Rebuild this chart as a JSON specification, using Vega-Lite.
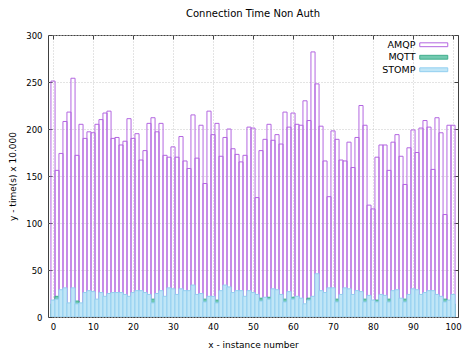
{
  "$schema": "https://vega.github.io/schema/vega-lite/v6.json",
  "width": 410,
  "height": 282,
  "autosize": {"type": "none"},
  "padding": {"left": 48, "top": 35, "right": 16, "bottom": 37},
  "background": "white",
  "title": {"text": "Connection Time Non Auth", "font": "DejaVu Sans", "fontSize": 10, "fontWeight": "normal", "color": "#000", "offset": 12, "anchor": "middle"},
  "config": {
    "view": {"stroke": "#404040", "strokeWidth": 1},
    "axis": {
      "labelFont": "DejaVu Sans", "labelFontSize": 8.5, "labelColor": "#000",
      "titleFont": "DejaVu Sans", "titleFontSize": 9, "titleFontWeight": "normal", "titleColor": "#000",
      "domain": false, "tickColor": "#404040", "tickSize": -4, "tickWidth": 1,
      "gridColor": "#c8c8c8", "gridDash": [1, 2], "gridWidth": 1
    },
    "legend": {"padding": 0}
  },
  "data": {"values": [
    {"i":0,"AMQP":251,"MQTT":14,"STOMP":18},
    {"i":1,"AMQP":156,"MQTT":22,"STOMP":19},
    {"i":2,"AMQP":174,"MQTT":15,"STOMP":29},
    {"i":3,"AMQP":208,"MQTT":14,"STOMP":31},
    {"i":4,"AMQP":218,"MQTT":13,"STOMP":15},
    {"i":5,"AMQP":254,"MQTT":15,"STOMP":31},
    {"i":6,"AMQP":172,"MQTT":17,"STOMP":14},
    {"i":7,"AMQP":205,"MQTT":13,"STOMP":15},
    {"i":8,"AMQP":190,"MQTT":15,"STOMP":26},
    {"i":9,"AMQP":197,"MQTT":14,"STOMP":28},
    {"i":10,"AMQP":196,"MQTT":15,"STOMP":27},
    {"i":11,"AMQP":205,"MQTT":16,"STOMP":19},
    {"i":12,"AMQP":210,"MQTT":14,"STOMP":26},
    {"i":13,"AMQP":217,"MQTT":15,"STOMP":22},
    {"i":14,"AMQP":219,"MQTT":14,"STOMP":25},
    {"i":15,"AMQP":190,"MQTT":16,"STOMP":26},
    {"i":16,"AMQP":191,"MQTT":15,"STOMP":26},
    {"i":17,"AMQP":183,"MQTT":14,"STOMP":26},
    {"i":18,"AMQP":187,"MQTT":15,"STOMP":24},
    {"i":19,"AMQP":211,"MQTT":16,"STOMP":22},
    {"i":20,"AMQP":190,"MQTT":14,"STOMP":26},
    {"i":21,"AMQP":195,"MQTT":15,"STOMP":28},
    {"i":22,"AMQP":167,"MQTT":14,"STOMP":28},
    {"i":23,"AMQP":177,"MQTT":15,"STOMP":26},
    {"i":24,"AMQP":206,"MQTT":16,"STOMP":24},
    {"i":25,"AMQP":212,"MQTT":19,"STOMP":15},
    {"i":26,"AMQP":197,"MQTT":15,"STOMP":25},
    {"i":27,"AMQP":206,"MQTT":14,"STOMP":28},
    {"i":28,"AMQP":172,"MQTT":16,"STOMP":22},
    {"i":29,"AMQP":170,"MQTT":15,"STOMP":31},
    {"i":30,"AMQP":181,"MQTT":14,"STOMP":30},
    {"i":31,"AMQP":170,"MQTT":15,"STOMP":24},
    {"i":32,"AMQP":192,"MQTT":16,"STOMP":30},
    {"i":33,"AMQP":166,"MQTT":14,"STOMP":28},
    {"i":34,"AMQP":158,"MQTT":15,"STOMP":28},
    {"i":35,"AMQP":215,"MQTT":16,"STOMP":34},
    {"i":36,"AMQP":169,"MQTT":15,"STOMP":24},
    {"i":37,"AMQP":204,"MQTT":14,"STOMP":25},
    {"i":38,"AMQP":142,"MQTT":19,"STOMP":16},
    {"i":39,"AMQP":219,"MQTT":15,"STOMP":22},
    {"i":40,"AMQP":194,"MQTT":16,"STOMP":22},
    {"i":41,"AMQP":206,"MQTT":18,"STOMP":15},
    {"i":42,"AMQP":171,"MQTT":15,"STOMP":28},
    {"i":43,"AMQP":191,"MQTT":14,"STOMP":34},
    {"i":44,"AMQP":200,"MQTT":15,"STOMP":32},
    {"i":45,"AMQP":179,"MQTT":16,"STOMP":26},
    {"i":46,"AMQP":173,"MQTT":14,"STOMP":28},
    {"i":47,"AMQP":165,"MQTT":15,"STOMP":28},
    {"i":48,"AMQP":172,"MQTT":16,"STOMP":22},
    {"i":49,"AMQP":202,"MQTT":15,"STOMP":28},
    {"i":50,"AMQP":201,"MQTT":14,"STOMP":26},
    {"i":51,"AMQP":127,"MQTT":15,"STOMP":24},
    {"i":52,"AMQP":177,"MQTT":20,"STOMP":17},
    {"i":53,"AMQP":189,"MQTT":15,"STOMP":21},
    {"i":54,"AMQP":205,"MQTT":21,"STOMP":19},
    {"i":55,"AMQP":188,"MQTT":15,"STOMP":30},
    {"i":56,"AMQP":194,"MQTT":14,"STOMP":29},
    {"i":57,"AMQP":184,"MQTT":16,"STOMP":24},
    {"i":58,"AMQP":218,"MQTT":19,"STOMP":16},
    {"i":59,"AMQP":202,"MQTT":15,"STOMP":27},
    {"i":60,"AMQP":217,"MQTT":21,"STOMP":19},
    {"i":61,"AMQP":205,"MQTT":15,"STOMP":22},
    {"i":62,"AMQP":204,"MQTT":14,"STOMP":20},
    {"i":63,"AMQP":230,"MQTT":12,"STOMP":14},
    {"i":64,"AMQP":209,"MQTT":20,"STOMP":18},
    {"i":65,"AMQP":282,"MQTT":15,"STOMP":22},
    {"i":66,"AMQP":248,"MQTT":16,"STOMP":46},
    {"i":67,"AMQP":203,"MQTT":15,"STOMP":28},
    {"i":68,"AMQP":166,"MQTT":14,"STOMP":26},
    {"i":69,"AMQP":128,"MQTT":15,"STOMP":31},
    {"i":70,"AMQP":198,"MQTT":16,"STOMP":31},
    {"i":71,"AMQP":189,"MQTT":19,"STOMP":16},
    {"i":72,"AMQP":167,"MQTT":15,"STOMP":24},
    {"i":73,"AMQP":166,"MQTT":14,"STOMP":31},
    {"i":74,"AMQP":186,"MQTT":15,"STOMP":30},
    {"i":75,"AMQP":159,"MQTT":16,"STOMP":24},
    {"i":76,"AMQP":191,"MQTT":15,"STOMP":28},
    {"i":77,"AMQP":225,"MQTT":14,"STOMP":27},
    {"i":78,"AMQP":204,"MQTT":19,"STOMP":16},
    {"i":79,"AMQP":119,"MQTT":15,"STOMP":23},
    {"i":80,"AMQP":115,"MQTT":14,"STOMP":18},
    {"i":81,"AMQP":170,"MQTT":18,"STOMP":16},
    {"i":82,"AMQP":183,"MQTT":15,"STOMP":24},
    {"i":83,"AMQP":183,"MQTT":14,"STOMP":23},
    {"i":84,"AMQP":156,"MQTT":19,"STOMP":16},
    {"i":85,"AMQP":186,"MQTT":15,"STOMP":28},
    {"i":86,"AMQP":194,"MQTT":16,"STOMP":29},
    {"i":87,"AMQP":171,"MQTT":15,"STOMP":20},
    {"i":88,"AMQP":141,"MQTT":19,"STOMP":16},
    {"i":89,"AMQP":180,"MQTT":15,"STOMP":24},
    {"i":90,"AMQP":199,"MQTT":14,"STOMP":30},
    {"i":91,"AMQP":175,"MQTT":15,"STOMP":29},
    {"i":92,"AMQP":201,"MQTT":16,"STOMP":24},
    {"i":93,"AMQP":209,"MQTT":15,"STOMP":26},
    {"i":94,"AMQP":202,"MQTT":14,"STOMP":28},
    {"i":95,"AMQP":157,"MQTT":15,"STOMP":28},
    {"i":96,"AMQP":212,"MQTT":16,"STOMP":24},
    {"i":97,"AMQP":196,"MQTT":15,"STOMP":22},
    {"i":98,"AMQP":109,"MQTT":19,"STOMP":16},
    {"i":99,"AMQP":204,"MQTT":15,"STOMP":18},
    {"i":100,"AMQP":204,"MQTT":14,"STOMP":24}
  ]},
  "transform": [{"fold": ["AMQP", "MQTT", "STOMP"], "as": ["series", "value"]}],
  "layer": [
    {
      "mark": {"type": "bar", "orient": "vertical", "width": 4.1, "clip": true, "strokeWidth": 1},
      "encoding": {
        "x": {"field": "i", "type": "quantitative", "scale": {"domain": [0, 100], "nice": false, "zero": false},
              "axis": {"values": [0,10,20,30,40,50,60,70,80,90,100], "title": "x - instance number", "grid": true, "labelPadding": 9, "titlePadding": 10}},
        "y": {"field": "value", "type": "quantitative", "stack": null, "scale": {"domain": [0, 300], "nice": false},
              "axis": {"values": [0,50,100,150,200,250,300], "title": "y - time(s) x 10.000", "grid": true, "labelPadding": 10, "titlePadding": 8}},
        "fill": {"field": "series", "type": "nominal",
                 "scale": {"domain": ["AMQP", "MQTT", "STOMP"], "range": ["rgba(255,255,255,0)", "#72c9b0", "#c0e6f7"]},
                 "legend": {"orient": "none", "legendX": 381, "legendY": 5, "title": null, "labelAlign": "right", "labelOffset": -23,
                            "symbolType": "M-4,-0.55L4,-0.55L4,0.55L-4,0.55Z", "symbolSize": 49, "rowPadding": 1.5,
                            "labelFont": "DejaVu Sans", "labelFontSize": 9.5, "labelColor": "#000", "symbolStrokeWidth": 1}},
        "stroke": {"field": "series", "type": "nominal",
                   "scale": {"domain": ["AMQP", "MQTT", "STOMP"], "range": ["#b366e0", "#3fae8c", "#92cff0"]},
                   "legend": {"orient": "none", "legendX": 381, "legendY": 5, "title": null, "labelAlign": "right", "labelOffset": -23,
                            "symbolType": "M-4,-0.55L4,-0.55L4,0.55L-4,0.55Z", "symbolSize": 49, "rowPadding": 1.5,
                            "labelFont": "DejaVu Sans", "labelFontSize": 9.5, "labelColor": "#000", "symbolStrokeWidth": 1}},
        "order": {"field": "series", "type": "ordinal"}
      }
    },
    {
      "mark": {"type": "bar", "orient": "vertical", "width": 4.1, "opacity": 0},
      "encoding": {
        "x": {"field": "i", "type": "quantitative", "scale": {"domain": [0, 100], "nice": false, "zero": false},
              "axis": {"orient": "top", "values": [0,10,20,30,40,50,60,70,80,90,100], "labels": false, "title": null, "grid": false}},
        "y": {"field": "value", "type": "quantitative", "stack": null, "scale": {"domain": [0, 300], "nice": false},
              "axis": {"orient": "right", "values": [0,50,100,150,200,250,300], "labels": false, "title": null, "grid": false}}
      }
    }
  ],
  "resolve": {"axis": {"x": "independent", "y": "independent"}}
}
